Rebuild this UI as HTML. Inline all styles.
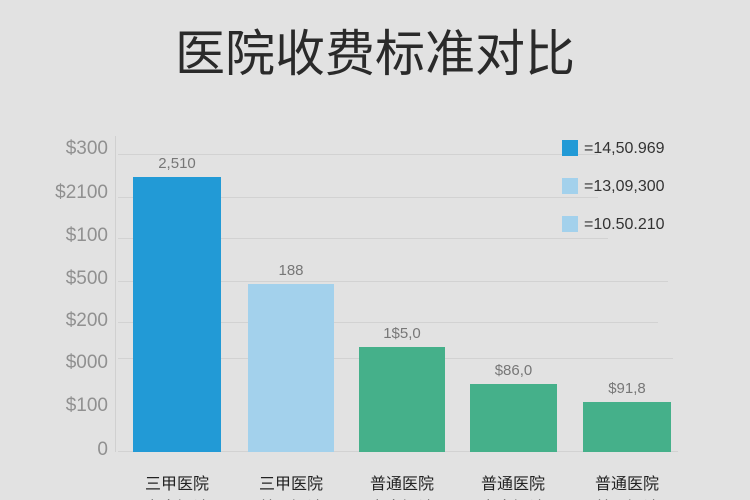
<!DOCTYPE html>
<html><head><meta charset="utf-8"><style>
html,body{margin:0;width:750px;height:500px;overflow:hidden}
body{background:#e2e2e2;font-family:"Liberation Sans","Noto Sans CJK SC",sans-serif;position:relative}
.a{position:absolute}
.t{left:0;width:750px;text-align:center;top:14px;font-size:50px;color:#2a2a2a;font-family:"Noto Sans CJK SC",sans-serif}
.y{right:642px;font-size:19px;color:#909090;text-align:right}
.g{left:118px;height:1px;background:#d2d2d2}
.v{font-size:15px;color:#777;text-align:center}
.x{font-size:16px;color:#222;text-align:center;width:100px;line-height:24px;font-family:"Noto Sans CJK SC",sans-serif}
.s{width:16px;height:16px;left:562px}
.l{left:584px;font-size:16px;color:#333}
</style></head><body>
<div class="a t">医院收费标准对比</div>
<div class="a" style="left:115px;top:136px;width:1px;height:316px;background:#d0d0d0"></div>
<div class="a g" style="top:154px;width:480px"></div>
<div class="a g" style="top:197px;width:480px"></div>
<div class="a g" style="top:238px;width:490px"></div>
<div class="a g" style="top:281px;width:550px"></div>
<div class="a g" style="top:322px;width:540px"></div>
<div class="a g" style="top:358px;width:555px"></div>
<div class="a g" style="top:451px;width:560px"></div>
<div class="a y" style="top:138px">$300</div>
<div class="a y" style="top:182px">$2100</div>
<div class="a y" style="top:225px">$100</div>
<div class="a y" style="top:268px">$500</div>
<div class="a y" style="top:310px">$200</div>
<div class="a y" style="top:352px">$000</div>
<div class="a y" style="top:395px">$100</div>
<div class="a y" style="top:439px">0</div>
<div class="a" style="left:133px;top:177px;width:88px;height:275px;background:#229ad6"></div>
<div class="a" style="left:248px;top:284px;width:86px;height:168px;background:#a3d1ec"></div>
<div class="a" style="left:359px;top:347px;width:86px;height:105px;background:#45b08a"></div>
<div class="a" style="left:470px;top:384px;width:87px;height:68px;background:#45b08a"></div>
<div class="a" style="left:583px;top:402px;width:88px;height:50px;background:#45b08a"></div>
<div class="a v" style="left:133px;width:88px;top:155px">2,510</div>
<div class="a v" style="left:248px;width:86px;top:262px">188</div>
<div class="a v" style="left:359px;width:86px;top:325px">1$5,0</div>
<div class="a v" style="left:470px;width:87px;top:362px">$86,0</div>
<div class="a v" style="left:583px;width:88px;top:380px">$91,8</div>
<div class="a x" style="left:127px;top:470px">三甲医院<br>专家门诊</div>
<div class="a x" style="left:241px;top:470px">三甲医院<br>普通门诊</div>
<div class="a x" style="left:352px;top:470px">普通医院<br>专家门诊</div>
<div class="a x" style="left:463px;top:470px">普通医院<br>专家门诊</div>
<div class="a x" style="left:577px;top:470px">普通医院<br>普通门诊</div>
<div class="a s" style="top:140px;background:#229ad6"></div>
<div class="a s" style="top:178px;background:#a3d1ec"></div>
<div class="a s" style="top:216px;background:#a3d1ec"></div>
<div class="a l" style="top:140px">=14,50.969</div>
<div class="a l" style="top:178px">=13,09,300</div>
<div class="a l" style="top:216px">=10.50.210</div>
</body></html>
